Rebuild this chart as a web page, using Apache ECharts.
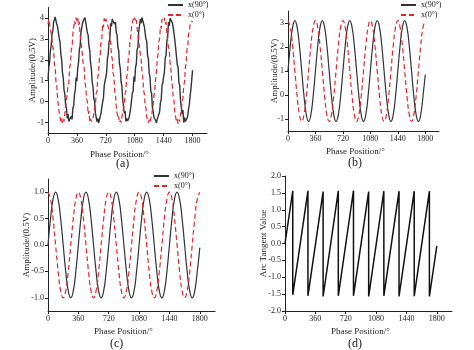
<!DOCTYPE html>
<html>
<head>
<meta charset="utf-8">
<script src="https://cdn.jsdelivr.net/npm/echarts@6/dist/echarts.min.js"></script>
<style>
html,body{margin:0;padding:0;background:#fff}
#main{width:474px;height:350px}
</style>
</head>
<body>
<div id="main"></div>
<script>
var xTicks = [0, 360, 720, 1080, 1440, 1800];

// (a) measured signals, read every 10 deg
var stepA = 10;
var aSin = [
  1.05, 1.62, 1.88, 2.45, 2.70, 3.25, 3.35, 3.80, 3.72, 4.05, 3.85, 3.92, 3.55, 3.48, 3.02, 2.85, 2.25, 2.02, 1.40, 1.15, 0.55, 0.35, -0.20, -0.30, -0.80, -0.60, -0.95, -0.85, -0.90, -0.70, -0.85, -0.30, -0.20, 0.35, 0.55, 1.15,
  0.98, 1.60, 1.85, 2.48, 2.65, 3.30, 3.25, 3.75, 3.88, 3.95, 4.02, 3.78, 3.70, 3.30, 3.18, 2.65, 2.45, 1.85, 1.58, 0.95, 0.72, 0.15, 0.02, -0.55, -0.50, -0.95, -0.80, -1.02, -0.88, -0.95, -0.55, -0.50, -0.02, 0.15, 0.75, 0.98,
  1.15, 1.40, 2.05, 2.25, 2.85, 3.00, 3.75, 3.60, 3.95, 3.85, 3.90, 3.70, 3.80, 3.30, 3.20, 2.60, 2.45, 1.80, 1.60, 0.95, 0.75, 0.10, 0.05, -0.55, -0.45, -0.95, -0.80, -0.92, -1.00, -0.78, -0.75, -0.30, -0.25, 0.40, 0.50, 1.20,
  0.95, 1.65, 1.80, 2.50, 2.60, 3.35, 3.30, 3.95, 3.75, 4.02, 3.88, 3.80, 3.58, 3.50, 2.98, 2.88, 2.20, 2.05, 1.35, 1.20, 0.50, 0.40, -0.25, -0.25, -0.75, -0.70, -0.90, -1.02, -0.85, -0.92, -0.60, -0.48, -0.05, 0.10, 0.78, 0.90,
  1.20, 1.42, 2.10, 2.20, 2.90, 3.05, 3.80, 3.62, 3.98, 3.90, 3.92, 3.75, 3.75, 3.25, 3.25, 2.55, 2.50, 1.75, 1.65, 0.90, 0.80, 0.05, 0.10, -0.60, -0.40, -1.00, -0.75, -0.95, -0.90, -0.80, -0.70, -0.35, -0.15, 0.30, 0.60, 1.05,
  1.50
];
var aCos = [
  3.70, 3.95, 3.70, 3.75, 3.25, 3.20, 2.60, 2.45, 1.80, 1.60, 0.90, 0.75, 0.10, 0.05, -0.55, -0.50, -0.95, -0.80, -1.02, -0.85, -0.95, -0.55, -0.50, 0.05, 0.10, 0.80, 0.90, 1.65, 1.80, 2.50, 2.60, 3.25, 3.30, 3.85, 3.70, 4.02,
  3.85, 4.00, 3.65, 3.80, 3.20, 3.25, 2.55, 2.50, 1.75, 1.65, 0.95, 0.70, 0.15, 0.00, -0.60, -0.45, -0.98, -0.82, -0.95, -1.00, -0.80, -0.78, -0.30, -0.20, 0.40, 0.50, 1.20, 1.35, 2.05, 2.20, 2.90, 3.00, 3.70, 3.55, 3.98, 3.80,
  3.95, 3.85, 3.90, 3.55, 3.45, 2.95, 2.85, 2.20, 2.05, 1.35, 1.25, 0.50, 0.40, -0.25, -0.25, -0.80, -0.70, -1.00, -0.90, -1.00, -0.75, -0.70, -0.30, -0.15, 0.35, 0.55, 1.15, 1.40, 2.05, 2.25, 2.85, 3.05, 3.55, 3.50, 3.95, 3.85,
  4.02, 3.80, 3.90, 3.50, 3.50, 2.90, 2.85, 2.25, 2.00, 1.40, 1.20, 0.55, 0.35, -0.20, -0.30, -0.75, -0.72, -1.02, -0.85, -0.98, -0.80, -0.70, -0.35, -0.15, 0.30, 0.55, 1.10, 1.40, 2.00, 2.25, 2.85, 3.00, 3.60, 3.50, 3.95, 3.85,
  3.90, 4.00, 3.70, 3.80, 3.25, 3.30, 2.60, 2.45, 1.85, 1.58, 0.95, 0.72, 0.15, 0.02, -0.55, -0.50, -0.95, -0.85, -1.05, -0.85, -0.95, -0.60, -0.45, 0.00, 0.15, 0.75, 0.95, 1.60, 1.85, 2.45, 2.65, 3.20, 3.35, 3.70, 3.75, 3.85,
  3.80
];

// (b) and (c) read every 30 deg
var stepBC = 30;
var bSin = [
  1, 2.05, 2.82, 3.1, 2.82, 2.05, 1, -0.05, -0.82, -1.1, -0.82, -0.05,
  1, 2.05, 2.82, 3.1, 2.82, 2.05, 1, -0.05, -0.82, -1.1, -0.82, -0.05,
  1, 2.05, 2.82, 3.1, 2.82, 2.05, 1, -0.05, -0.82, -1.1, -0.82, -0.05,
  1, 2.05, 2.82, 3.1, 2.82, 2.05, 1, -0.05, -0.82, -1.1, -0.82, -0.05,
  1, 2.05, 2.82, 3.1, 2.82, 2.05, 1, -0.05, -0.82, -1.1, -0.82, -0.05,
  0.85
];
var bCos = [
  3.1, 2.82, 2.05, 1, -0.05, -0.82, -1.1, -0.82, -0.05, 1, 2.05, 2.82,
  3.1, 2.82, 2.05, 1, -0.05, -0.82, -1.1, -0.82, -0.05, 1, 2.05, 2.82,
  3.1, 2.82, 2.05, 1, -0.05, -0.82, -1.1, -0.82, -0.05, 1, 2.05, 2.82,
  3.1, 2.82, 2.05, 1, -0.05, -0.82, -1.1, -0.82, -0.05, 1, 2.05, 2.82,
  3.1, 2.82, 2.05, 1, -0.05, -0.82, -1.1, -0.82, -0.05, 1, 2.05, 2.82,
  3.1
];
var cSin = [
  0, 0.5, 0.87, 1, 0.87, 0.5, 0, -0.5, -0.87, -1, -0.87, -0.5,
  0, 0.5, 0.87, 1, 0.87, 0.5, 0, -0.5, -0.87, -1, -0.87, -0.5,
  0, 0.5, 0.87, 1, 0.87, 0.5, 0, -0.5, -0.87, -1, -0.87, -0.5,
  0, 0.5, 0.87, 1, 0.87, 0.5, 0, -0.5, -0.87, -1, -0.87, -0.5,
  0, 0.5, 0.87, 1, 0.87, 0.5, 0, -0.5, -0.87, -1, -0.87, -0.5,
  -0.05
];
var cCos = [
  1, 0.87, 0.5, 0, -0.5, -0.87, -1, -0.87, -0.5, 0, 0.5, 0.87,
  1, 0.87, 0.5, 0, -0.5, -0.87, -1, -0.87, -0.5, 0, 0.5, 0.87,
  1, 0.87, 0.5, 0, -0.5, -0.87, -1, -0.87, -0.5, 0, 0.5, 0.87,
  1, 0.87, 0.5, 0, -0.5, -0.87, -1, -0.87, -0.5, 0, 0.5, 0.87,
  1, 0.87, 0.5, 0, -0.5, -0.87, -1, -0.87, -0.5, 0, 0.5, 0.87,
  1
];

// (d) arc tangent, corner points
var dPhase = [0, 92, 92, 272, 272, 452, 452, 632, 632, 812, 812, 992, 992, 1172, 1172, 1352, 1352, 1532, 1532, 1712, 1712, 1800];
var dAtan = [0, 1.56, -1.52, 1.56, -1.55, 1.54, -1.57, 1.56, -1.55, 1.57, -1.55, 1.54, -1.57, 1.55, -1.55, 1.55, -1.57, 1.55, -1.56, 1.55, -1.57, -0.07];

var font = 'Liberation Serif';
var ink = '#222';
var red = '#e3262c';

function pairs(step, vals) {
  return vals.map(function (v, i) { return [i * step, v]; });
}
function pairsXY(xs, ys) {
  return xs.map(function (x, i) { return [x, ys[i]]; });
}

function xAxisOf(g, gap) {
  return {
    type: 'value', gridIndex: g, min: 0, max: 1980,
    name: 'Phase Position/°', nameLocation: 'middle', nameGap: gap, nameMoveOverlap: false,
    nameTextStyle: { fontFamily: font, fontSize: 9, color: ink, padding: [0, 16, 0, 0] },
    axisLine: { onZero: false, lineStyle: { color: ink, width: 1 } },
    axisTick: { length: 3, lineStyle: { color: ink }, customValues: xTicks },
    axisLabel: {
      fontFamily: font, fontSize: 8, color: ink, margin: 4, customValues: xTicks,
      formatter: function (v) { return String(v); }
    },
    splitLine: { show: false }
  };
}
function yAxisOf(g, min, max, ticks, name, gap, dec) {
  return {
    type: 'value', gridIndex: g, min: min, max: max,
    name: name, nameLocation: 'middle', nameGap: gap, nameMoveOverlap: false,
    nameTextStyle: { fontFamily: font, fontSize: 9, color: ink },
    axisLine: { show: true, onZero: false, lineStyle: { color: ink, width: 1 } },
    axisTick: { show: true, length: 3, lineStyle: { color: ink }, customValues: ticks },
    axisLabel: {
      fontFamily: font, fontSize: 8, color: ink, margin: 4, customValues: ticks,
      formatter: function (v) { return dec ? v.toFixed(1) : String(v); }
    },
    splitLine: { show: false }
  };
}
function legendOf(left, top) {
  return {
    orient: 'vertical', left: left, top: top, padding: 0,
    itemWidth: 15, itemHeight: 8, itemGap: 2,
    itemStyle: { opacity: 0 },
    textStyle: { fontFamily: font, fontSize: 8, color: ink },
    data: ['x(90°)', 'x(0°)']
  };
}
function lineOf(name, g, data, color, dashed, smooth, width) {
  return {
    name: name, type: 'line', xAxisIndex: g, yAxisIndex: g, data: data,
    showSymbol: false, symbol: 'none', smooth: smooth, silent: true,
    lineStyle: { color: color, width: width, type: dashed ? [5, 3] : 'solid' },
    itemStyle: { color: color }
  };
}

var chart = echarts.init(document.getElementById('main'));
var option = {
  animation: false,
  backgroundColor: '#fff',
  grid: [
    { left: 48, top: 7.5, width: 159, height: 125.5 },
    { left: 288, top: 11, width: 151, height: 120 },
    { left: 48, top: 179, width: 167, height: 132 },
    { left: 285, top: 176, width: 167, height: 135 }
  ],
  xAxis: [xAxisOf(0, 17), xAxisOf(1, 16), xAxisOf(2, 16), xAxisOf(3, 16)],
  yAxis: [
    yAxisOf(0, -1.5, 4.5, [-1, 0, 1, 2, 3, 4], 'Amplitude/(0.5V)', 11, false),
    yAxisOf(1, -1.5, 3.5, [-1, 0, 1, 2, 3], 'Amplitude/(0.5V)', 9, false),
    yAxisOf(2, -1.25, 1.25, [-1, -0.5, 0, 0.5, 1], 'Amplitude/(0.5V)', 17, true),
    yAxisOf(3, -2, 2, [-2, -1.5, -1, -0.5, 0, 0.5, 1, 1.5, 2], 'Arc Tangent Value', 17, true)
  ],
  legend: [legendOf(167, 1), legendOf(400, 1), legendOf(153, 172)],
  graphic: [
    { type: 'text', left: 116, top: 158, style: { text: '(a)', font: '12px "Liberation Serif"', fill: ink } },
    { type: 'text', left: 348, top: 157, style: { text: '(b)', font: '12px "Liberation Serif"', fill: ink } },
    { type: 'text', left: 110, top: 338, style: { text: '(c)', font: '12px "Liberation Serif"', fill: ink } },
    { type: 'text', left: 348, top: 338, style: { text: '(d)', font: '12px "Liberation Serif"', fill: ink } }
  ],
  series: [
    lineOf('x(90°)', 0, pairs(stepA, aSin), '#333', false, false, 1.4),
    lineOf('x(0°)', 0, pairs(stepA, aCos), red, true, false, 1.2),
    lineOf('x(90°)', 1, pairs(stepBC, bSin), '#333', false, true, 1.2),
    lineOf('x(0°)', 1, pairs(stepBC, bCos), red, true, true, 1.2),
    lineOf('x(90°)', 2, pairs(stepBC, cSin), '#333', false, true, 1.2),
    lineOf('x(0°)', 2, pairs(stepBC, cCos), red, true, true, 1.2),
    lineOf('atan', 3, pairsXY(dPhase, dAtan), '#111', false, false, 1.5)
  ]
};
chart.setOption(option);
</script>
</body>
</html>
